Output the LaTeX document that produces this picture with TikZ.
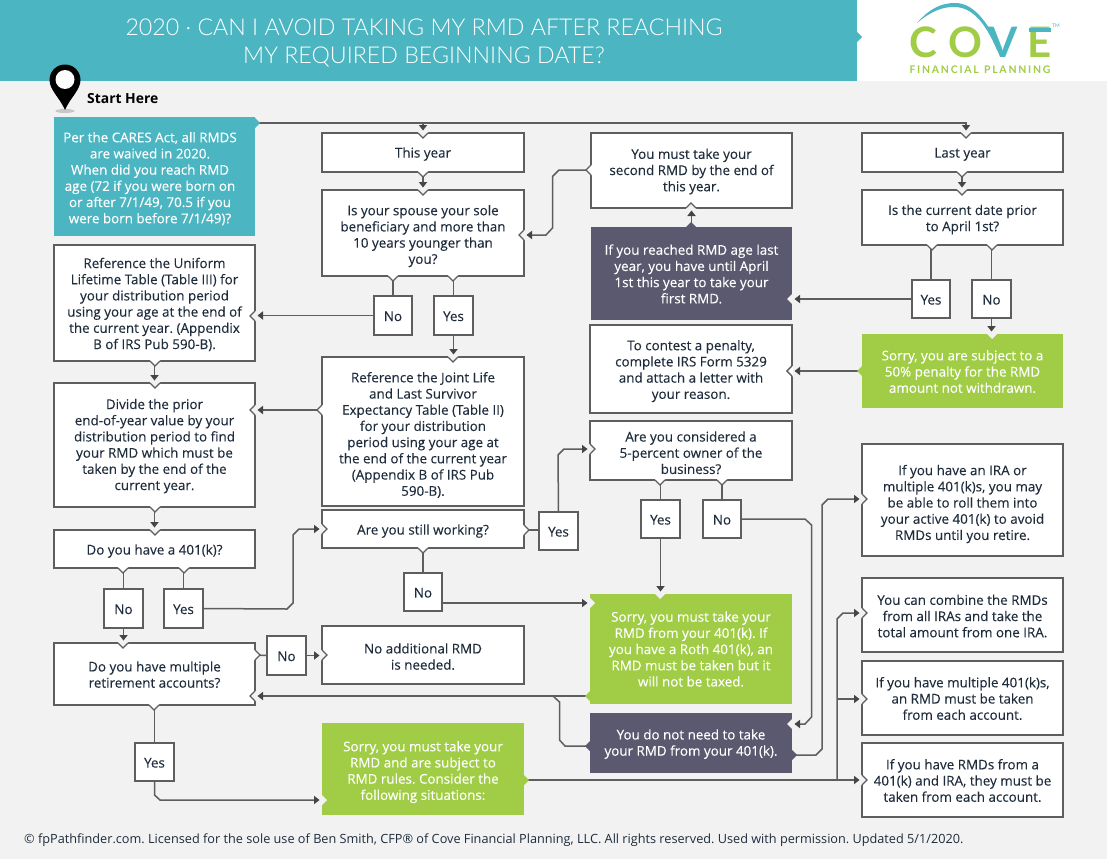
\documentclass[tikz,border=0pt]{standalone}
\usepackage{fontspec}
\setmainfont{Open Sans}
\newfontfamily\ttlfont{Lato Light}
\newfontfamily\logofont{Lato}
\usetikzlibrary{arrows.meta}
\frenchspacing
\definecolor{bgc}{HTML}{F2F2F2}
\definecolor{teal}{HTML}{4BB5C1}
\definecolor{grn}{HTML}{A0CD45}
\definecolor{drk}{HTML}{5A5970}
\definecolor{edge}{HTML}{5E5E5E}
\definecolor{tipc}{HTML}{454545}
\definecolor{ink}{HTML}{1E2C3C}
\tikzset{
  boxw/.style={draw=edge,line width=1.5pt,fill=white,text=ink,inner sep=0pt,outer sep=0pt,font=\addfontfeature{FakeBold=0.12}\fontsize{13.4}{16.2}\selectfont},
  boxc/.style={fill=#1,text=white,inner sep=0pt,outer sep=0pt,font=\addfontfeature{FakeBold=0.2}\fontsize{13.4}{16.2}\selectfont},
  conn/.style={draw=edge,line width=1.5pt},
  arr/.style={conn,-{Triangle[length=5.5pt,width=8.5pt,fill=tipc,line width=0pt]},shorten >=2.5pt},
}
\def\tdy{-2.3pt}
\newcommand{\lns}[1]{\raisebox{\tdy}[\height][\depth]{\begin{tabular}{@{}c@{}}#1\end{tabular}}}
\newcommand{\bx}[7]{\node[#2,minimum width={(#5-#3)*1pt},minimum height={(#6-#4)*1pt}] (#1) at ({(#3+#5)/2},{(#4+#6)/2}) {\lns{#7}};}
\newcommand{\chin}[4]{\begin{scope}[shift={(#1,#2)},rotate=#3]
  \fill[bgc] (-0.9,-5) -- (0,-5) -- (5,0) -- (0,5) -- (-0.9,5) -- cycle;
  \draw[#4,line width=1.3pt] (0,-5) -- (5,0) -- (0,5);\end{scope}}
\newcommand{\chout}[5]{\begin{scope}[shift={(#1,#2)},rotate=#3]
  \fill[#4] (-0.9,-5) -- (0,-5) -- (5,0) -- (0,5) -- (-0.9,5) -- cycle;
  \draw[#5,line width=1.3pt] (0,-5) -- (5,0) -- (0,5);\end{scope}}
\begin{document}
\begin{tikzpicture}[x=1pt,y=-1pt]
\useasboundingbox (0,0) rectangle (1107,859);
\fill[bgc] (0,0) rectangle (1107,859);
% header
\fill[white] (857,0) rectangle (1107,81);
\fill[teal] (0,0) rectangle (857,81);
\fill[teal] (857,32) -- (862,37) -- (857,42) -- cycle;
\node[text=white,align=center,font=\ttlfont\fontsize{23.2}{28}\selectfont] (title) at (424,43) {2020 · CAN I AVOID TAKING MY RMD AFTER REACHING\\MY REQUIRED BEGINNING DATE?};
% logo
\node[text=grn,font=\logofont\bfseries\fontsize{42}{42}\selectfont,inner sep=0pt] (lc) at (923.5,42) {C};
\node[text=grn,font=\logofont\bfseries\fontsize{42}{42}\selectfont,inner sep=0pt] (lo) at (965.5,42) {O};
\node[text=teal,font=\logofont\bfseries\fontsize{42}{42}\selectfont,inner sep=0pt] (lv) at (1003,42) {V};
\node[text=grn,font=\logofont\bfseries\fontsize{42}{42}\selectfont,inner sep=0pt] (le) at (1040,42) {E};
\fill[teal] (1029,28) rectangle (1051,32.5);
\fill[teal] (917,23) .. controls (930,8) and (942,3) .. (955,3) .. controls (975,3) and (990,25) .. (1004,57) -- (997,50) .. controls (985,22) and (972,7.5) .. (955,7) .. controls (942,6.5) and (930,12) .. (917,23) -- cycle;
\node[text=grn,font=\logofont\bfseries\fontsize{10.5}{11}\selectfont,inner sep=0pt] (lf) at (980,70) {F\,I\,N\,A\,N\,C\,I\,A\,L\ \ P\,L\,A\,N\,N\,I\,N\,G};
\node[text=teal,font=\logofont\fontsize{5}{5}\selectfont,inner sep=0pt] (ltm) at (1056,26) {TM};
% pin
\fill[black!22] (65,111) ellipse [x radius=9.5,y radius=2];
\fill[black] (65,110) .. controls (60,98) and (49.5,90) .. (49.5,80) .. controls (49.5,71.4) and (56.4,64.5) .. (65,64.5) .. controls (73.6,64.5) and (80.5,71.4) .. (80.5,80) .. controls (80.5,90) and (70,98) .. (65,110) -- cycle;
\fill[white] (65,79.5) circle [radius=9.5];
\node[anchor=west,inner sep=0pt,text=black,font=\bfseries\fontsize{13.9}{16}\selectfont] (here) at (87,98.5) {Start Here};
% boxes
\def\tdy{-3pt}
\bx{start}{boxc=teal}{54}{117}{255}{236}{\kern-9pt Per the CARES Act, all RMDS\\\kern-9pt are waived in 2020.\\\kern-9pt When did you reach RMD\\\kern-9pt age (72 if you were born on\\\kern-9pt or after 7/1/49, 70.5 if you\\\kern-9pt were born before 7/1/49)?}
\def\tdy{-1.8pt}
\bx{thisy}{boxw}{322}{133}{524}{172}{This year}
\def\tdy{-3.3pt}
\bx{spouse}{boxw}{322}{190}{524}{276}{Is your spouse your sole\\beneficiary and more than\\10 years younger than\\you?}
\def\tdy{-2.3pt}
\bx{unif}{boxw}{54}{245}{255}{361}{Reference the Uniform\\Lifetime Table (Table III) for\\your distribution period\\using your age at the end of\\the current year. (Appendix\\B of IRS Pub 590-B).}
\bx{sNo}{boxw}{374}{296}{412}{335}{No}
\bx{sYes}{boxw}{434}{296}{473}{335}{Yes}
\def\tdy{-4.3pt}
\bx{joint}{boxw}{322}{357}{524}{506}{Reference the Joint Life\\and Last Survivor\\Expectancy Table (Table II)\\for your distribution\\period using your age at\\the end of the current year\\(Appendix B of IRS Pub\\590-B).}
\def\tdy{-1.3pt}
\bx{divide}{boxw}{54}{383}{255}{507}{Divide the prior\\end-of-year value by your\\distribution period to find\\your RMD which must be\\taken by the end of the\\current year.}
\def\tdy{-2.3pt}
\bx{kq}{boxw}{54}{530}{255}{568}{Do you have a 401(k)?}
\bx{kNo}{boxw}{104}{589}{143}{628}{No}
\bx{kYes}{boxw}{164}{589}{203}{628}{Yes}
\bx{multi}{boxw}{54}{643}{255}{705}{Do you have multiple\\retirement accounts?}
\bx{mNo}{boxw}{267}{636}{306}{675}{No}
\def\tdy{-3.3pt}
\bx{noadd}{boxw}{322}{626}{524}{684}{No additional RMD\\is needed.}
\def\tdy{-2.3pt}
\bx{mYes}{boxw}{135}{743}{174}{781}{Yes}
\def\tdy{-3.3pt}
\bx{srm}{boxc=grn}{322}{723}{524}{815}{Sorry, you must take your\\RMD and are subject to\\RMD rules. Consider the\\following situations:}
\def\tdy{-2.3pt}
\bx{work}{boxw}{322}{510}{524}{548}{Are you still working?}
\bx{wYes}{boxw}{539}{512}{578}{550}{Yes}
\bx{wNo}{boxw}{404}{573}{442}{611}{No}
\def\tdy{-1.3pt}
\bx{second}{boxw}{591}{133}{792}{208}{You must take your\\second RMD by the end of\\this year.}
\def\tdy{-2.3pt}
\bx{reached}{boxc=drk}{591}{227}{792}{320}{If you reached RMD age last\\year, you have until April\\1st this year to take your\\first RMD.}
\bx{contest}{boxw}{590}{325}{792}{413}{To contest a penalty,\\complete IRS Form 5329\\and attach a letter with\\your reason.}
\def\tdy{-4pt}
\bx{five}{boxw}{590}{421}{792}{480}{Are you considered a\\5-percent owner of the\\business?}
\def\tdy{-2.3pt}
\bx{fYes}{boxw}{641}{500}{680}{538}{Yes}
\bx{fNo}{boxw}{703}{500}{741}{538}{No}
\def\tdy{-1.8pt}
\bx{sor}{boxc=grn}{590}{594}{792}{704}{Sorry, you must take your\\RMD from your 401(k). If\\you have a Roth 401(k), an\\RMD must be taken but it\\will not be taxed.}
\def\tdy{-1.3pt}
\bx{noneed}{boxc=drk}{590}{713}{792}{773}{You do not need to take\\your RMD from your 401(k).}
\def\tdy{-1.8pt}
\bx{lasty}{boxw}{862}{133}{1063}{172}{Last year}
\def\tdy{-2.3pt}
\bx{curr}{boxw}{862}{190}{1063}{245}{Is the current date prior\\to April 1st?}
\bx{cYes}{boxw}{912}{280}{950}{318}{Yes}
\bx{cNo}{boxw}{972}{280}{1011}{318}{No}
\bx{penalty}{boxc=grn}{862}{334}{1063}{408}{Sorry, you are subject to a\\50\% penalty for the RMD\\amount not withdrawn.}
\def\tdy{-4.3pt}
\bx{ira}{boxw}{862}{444}{1063}{556}{If you have an IRA or\\multiple 401(k)s, you may\\be able to roll them into\\your active 401(k) to avoid\\RMDs until you retire.}
\def\tdy{-2.8pt}
\bx{combine}{boxw}{862}{578}{1063}{652}{You can combine the RMDs\\from all IRAs and take the\\total amount from one IRA.}
\def\tdy{-2.3pt}
\bx{multk}{boxw}{862}{661}{1063}{735}{If you have multiple 401(k)s,\\an RMD must be taken\\from each account.}
\bx{both}{boxw}{862}{743}{1063}{817}{If you have RMDs from a\\401(k) and IRA, they must be\\taken from each account.}
\node[anchor=west,inner sep=0pt,text=ink,font=\fontsize{12.7}{15}\selectfont] (foot) at (24,840.5) {© fpPathfinder.com. Licensed for the sole use of Ben Smith, CFP® of Cove Financial Planning, LLC. All rights reserved. Used with permission. Updated 5/1/2020.};
% junctions
\coordinate (j1) at (423,123);
\coordinate (j2) at (553,696);
\coordinate (j3) at (837,780);
\coordinate (j4) at (837,699);
% connectors
\draw[arr] (start.east |- 0,123) -- (966,123) -- (lasty.north -| 966,0);
\draw[arr] (j1) -- (thisy.north);
\draw[arr] (thisy.south) -- (spouse.north);
\draw[conn] (spouse.south -| sNo.north) -- (sNo.north);
\draw[conn] (spouse.south -| sYes.north) -- (sYes.north);
\draw[arr] (sYes.south) -- (joint.north -| sYes.south);
\draw[arr] (sNo.west) -- (sNo.west -| unif.east);
\draw[arr] (second.west |- 0,170) -- (559,170) -- (552.5,176.5) -- (552.5,228) -- (546,235) -- (spouse.east |- 0,235);
\draw[arr] (reached.north) -- (second.south);
\draw[arr] (lasty.south -| 962,0) -- (curr.north -| 962,0);
\draw[conn] (curr.south -| cYes.north) -- (cYes.north);
\draw[conn] (curr.south -| cNo.north) -- (cNo.north);
\draw[arr] (cYes.west) -- (cYes.west -| reached.east);
\draw[arr] (cNo.south) -- (penalty.north -| cNo.south);
\draw[arr] (penalty.west |- 0,371) -- (contest.east |- 0,371);
\draw[arr] (unif.south) -- (divide.north);
\draw[arr] (joint.west |- 0,410) -- (divide.east |- 0,410);
\draw[arr] (divide.south) -- (kq.north);
\draw[conn] (kq.south -| kNo.north) -- (kNo.north);
\draw[conn] (kq.south -| kYes.north) -- (kYes.north);
\draw[arr] (kNo.south) -- (multi.north -| kNo.south);
\draw[arr] (kYes.east) -- (287,609) -- (293,603) -- (293,535) -- (299,529) -- (work.west |- 0,529);
\draw[conn] (work.east |- 0,530) -- (wYes.west |- 0,530);
\draw[conn] (work.south) -- (wNo.north);
\draw[arr] (wYes.north) -- (558,455) -- (564,449) -- (five.west |- 0,449);
\draw[arr] (wNo.east |- 0,603) -- (sor.west |- 0,603);
\draw[conn] (five.south -| fYes.north) -- (fYes.north);
\draw[conn] (five.south -| fNo.north) -- (fNo.north);
\draw[arr] (fYes.south) -- (sor.north -| fYes.south);
\draw[arr] (fNo.east) -- (805,519) -- (811.5,525) -- (811.5,717) -- (805,724) -- (noneed.east |- 0,724);
\draw[arr] (noneed.east |- 0,755) -- (816,755) -- (822,749) -- (822,505) -- (828,499) -- (ira.west |- 0,499);
\draw[arr] (sor.west |- 0,696) -- (multi.east |- 0,696);
\draw[conn] (noneed.west |- 0,746) -- (565,746) -- (559.5,740) -- (559.5,702) -- (j2);
\draw[conn] (multi.east |- 0,655) -- (mNo.west);
\draw[arr] (mNo.east) -- (noadd.west |- mNo.east);
\draw[conn] (multi.south -| mYes.north) -- (mYes.north);
\draw[arr] (mYes.south) -- (154.5,795) -- (160,800) -- (srm.west |- 0,800);
\draw[arr] (srm.east |- 0,780) -- (both.west |- 0,780);
\draw[arr] (j3) -- (837,619) -- (843,613) -- (combine.west |- 0,613);
\draw[arr] (j4) -- (multk.west |- 0,699);
% entry notches
\foreach \p/\q/\a in {423/133/270,966/133/270,423/190/270,962/190/270,524/235/180,691/208/90,453/357/270,255/316/180,792/371/180,155/383/270,255/410/180,155/530/270,123/643/270,322/529/0,590/449/0,862/499/0,862/613/0,862/699/0,862/780/0,255/696/180,322/655/0}
  {\chin{\p}{\q}{\a}{edge}}
\foreach \p/\q/\a in {792/299/180,992/334/270,590/603/0,660/594/270,792/724/180,322/800/0}
  {\chin{\p}{\q}{\a}{draw=none}}
% exit notches
\foreach \p/\q/\a in {423/172/270,393/276/270,453/276/270,591/170/180,962/172/270,932/245/270,992/245/270,792/371/180,155/361/270,322/410/180,155/507/270,123/568/270,184/568/270,255/655/0,154/705/270,524/530/0,423/548/270,660/480/270,722/480/270}
  {\chout{\p}{\q}{\a}{white}{edge}}
\chout{255}{123}{0}{teal}{draw=none}
\chout{691}{227}{90}{drk}{draw=none}
\chout{862}{371}{180}{grn}{draw=none}
\chout{792}{755}{0}{drk}{draw=none}
\chout{590}{746}{180}{drk}{draw=none}
\chout{590}{696}{180}{grn}{draw=none}
\chout{524}{780}{0}{grn}{draw=none}
\end{tikzpicture}
\end{document}
